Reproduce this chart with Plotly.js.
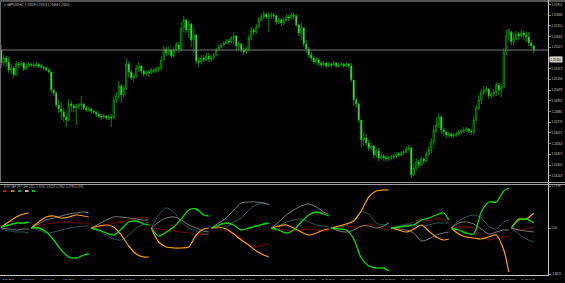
<!DOCTYPE html>
<html><head><meta charset="utf-8">
<script src="https://cdn.plot.ly/plotly-3.0.1.min.js"></script>
<style>html,body{margin:0;padding:0;background:#000;overflow:hidden}#chart{width:565px;height:283px}</style>
</head><body><div id="chart"></div>
<script>
const chartTitle = "GBPUSD,H1  1.25528 1.25553 1.25468 1.25500";
const bidLabel = "1.25410";
const bidPrice = 1.2550;

const openP = [1.2550,
1.2537,1.2542,1.2538,1.2530,1.2532,1.2525,1.2536,1.2535,1.2537,1.2531,
1.2534,1.2536,1.2535,1.2534,1.2536,1.2534,1.2533,1.2532,1.2530,1.2528,
1.2510,1.2507,1.2495,1.2491,1.2488,1.2483,1.2480,1.2496,1.2494,1.2492,
1.2494,1.2495,1.2496,1.2492,1.2490,1.2491,1.2489,1.2488,1.2486,1.2484,
1.2483,1.2484,1.2482,1.2483,1.2482,1.2500,1.2504,1.2514,1.2505,1.2512,
1.2536,1.2528,1.2522,1.2524,1.2532,1.2534,1.2529,1.2526,1.2528,1.2527,
1.2530,1.2529,1.2531,1.2532,1.2540,1.2551,1.2547,1.2550,1.2544,1.2550,
1.2555,1.2551,1.2572,1.2580,1.2570,1.2576,1.2560,1.2565,1.2539,1.2538,
1.2542,1.2540,1.2544,1.2541,1.2543,1.2545,1.2550,1.2553,1.2555,1.2557,
1.2559,1.2558,1.2562,1.2564,1.2554,1.2556,1.2550,1.2548,1.2551,1.2562,
1.2570,1.2568,1.2573,1.2580,1.2583,1.2586,1.2583,1.2584,1.2585,1.2584,
1.2578,1.2580,1.2577,1.2580,1.2583,1.2582,1.2585,1.2584,1.2575,1.2567,
1.2572,1.2556,1.2551,1.2545,1.2542,1.2538,1.2540,1.2537,1.2535,1.2537,
1.2534,1.2536,1.2535,1.2537,1.2534,1.2535,1.2536,1.2534,1.2536,1.2534,
1.2520,1.2500,1.2496,1.2480,1.2460,1.2462,1.2457,1.2452,1.2454,1.2445,
1.2449,1.2442,1.2444,1.2442,1.2441,1.2442,1.2443,1.2444,1.2446,1.2445,
1.2447,1.2448,1.2451,1.2452,1.2425,1.2432,1.2438,1.2435,1.2441,1.2439,
1.2446,1.2450,1.2458,1.2470,1.2475,1.2483,1.2470,1.2468,1.2465,1.2466,
1.2464,1.2465,1.2466,1.2468,1.2469,1.2470,1.2471,1.2469,1.2468,1.2480,
1.2492,1.2500,1.2508,1.2510,1.2511,1.2504,1.2506,1.2508,1.2515,1.2510,
1.2513,1.2548,1.2565,1.2568,1.2558,1.2562,1.2566,1.2564,1.2567,1.2565,
1.2563,1.2557,1.2554];

const closeP = [
1.2537,1.2542,1.2538,1.2530,1.2532,1.2525,1.2536,1.2535,1.2537,1.2531,
1.2534,1.2536,1.2535,1.2534,1.2536,1.2534,1.2533,1.2532,1.2530,1.2528,
1.2510,1.2507,1.2495,1.2491,1.2488,1.2483,1.2480,1.2496,1.2494,1.2492,
1.2494,1.2495,1.2496,1.2492,1.2490,1.2491,1.2489,1.2488,1.2486,1.2484,
1.2483,1.2484,1.2482,1.2483,1.2482,1.2500,1.2504,1.2514,1.2505,1.2512,
1.2536,1.2528,1.2522,1.2524,1.2532,1.2534,1.2529,1.2526,1.2528,1.2527,
1.2530,1.2529,1.2531,1.2532,1.2540,1.2551,1.2547,1.2550,1.2544,1.2550,
1.2555,1.2551,1.2572,1.2580,1.2570,1.2576,1.2560,1.2565,1.2539,1.2538,
1.2542,1.2540,1.2544,1.2541,1.2543,1.2545,1.2550,1.2553,1.2555,1.2557,
1.2559,1.2558,1.2562,1.2564,1.2554,1.2556,1.2550,1.2548,1.2551,1.2562,
1.2570,1.2568,1.2573,1.2580,1.2583,1.2586,1.2583,1.2584,1.2585,1.2584,
1.2578,1.2580,1.2577,1.2580,1.2583,1.2582,1.2585,1.2584,1.2575,1.2567,
1.2572,1.2556,1.2551,1.2545,1.2542,1.2538,1.2540,1.2537,1.2535,1.2537,
1.2534,1.2536,1.2535,1.2537,1.2534,1.2535,1.2536,1.2534,1.2536,1.2534,
1.2520,1.2500,1.2496,1.2480,1.2460,1.2462,1.2457,1.2452,1.2454,1.2445,
1.2449,1.2442,1.2444,1.2442,1.2441,1.2442,1.2443,1.2444,1.2446,1.2445,
1.2447,1.2448,1.2451,1.2452,1.2425,1.2432,1.2438,1.2435,1.2441,1.2439,
1.2446,1.2450,1.2458,1.2470,1.2475,1.2483,1.2470,1.2468,1.2465,1.2466,
1.2464,1.2465,1.2466,1.2468,1.2469,1.2470,1.2471,1.2469,1.2468,1.2480,
1.2492,1.2500,1.2508,1.2510,1.2511,1.2504,1.2506,1.2508,1.2515,1.2510,
1.2513,1.2548,1.2565,1.2568,1.2558,1.2562,1.2566,1.2564,1.2567,1.2565,
1.2563,1.2557,1.2554,1.2550];

const highP = [
1.2555,1.2545,1.2544,1.2543,1.2536,1.2534,1.2539,1.2538,1.2539,1.2538,
1.2536,1.2538,1.2537,1.2537,1.2538,1.2537,1.2536,1.2534,1.2533,1.2532,
1.2529,1.2511,1.2508,1.2500,1.2498,1.2492,1.2485,1.2501,1.2499,1.2496,
1.2496,1.2497,1.2504,1.2497,1.2494,1.2493,1.2492,1.2490,1.2489,1.2487,
1.2486,1.2486,1.2485,1.2485,1.2486,1.2505,1.2508,1.2519,1.2516,1.2515,
1.2542,1.2538,1.2530,1.2527,1.2535,1.2538,1.2535,1.2531,1.2530,1.2530,
1.2532,1.2532,1.2533,1.2534,1.2544,1.2554,1.2553,1.2554,1.2551,1.2553,
1.2558,1.2558,1.2578,1.2584,1.2581,1.2579,1.2577,1.2572,1.2566,1.2543,
1.2545,1.2545,1.2547,1.2547,1.2545,1.2547,1.2552,1.2555,1.2557,1.2559,
1.2561,1.2561,1.2564,1.2568,1.2565,1.2559,1.2557,1.2552,1.2554,1.2565,
1.2573,1.2572,1.2576,1.2583,1.2586,1.2589,1.2587,1.2588,1.2588,1.2587,
1.2585,1.2583,1.2582,1.2583,1.2586,1.2585,1.2588,1.2587,1.2586,1.2576,
1.2578,1.2573,1.2560,1.2553,1.2548,1.2544,1.2543,1.2542,1.2539,1.2539,
1.2538,1.2538,1.2537,1.2539,1.2538,1.2537,1.2538,1.2537,1.2538,1.2537,
1.2537,1.2520,1.2502,1.2497,1.2480,1.2468,1.2466,1.2460,1.2457,1.2455,
1.2452,1.2452,1.2447,1.2446,1.2444,1.2444,1.2445,1.2446,1.2448,1.2448,
1.2449,1.2450,1.2454,1.2455,1.2453,1.2437,1.2442,1.2440,1.2444,1.2443,
1.2449,1.2454,1.2462,1.2475,1.2483,1.2487,1.2484,1.2472,1.2469,1.2468,
1.2467,1.2467,1.2468,1.2470,1.2471,1.2473,1.2473,1.2472,1.2471,1.2484,
1.2495,1.2505,1.2511,1.2514,1.2514,1.2512,1.2508,1.2511,1.2518,1.2517,
1.2516,1.2552,1.2570,1.2572,1.2569,1.2567,1.2569,1.2568,1.2570,1.2569,
1.2568,1.2568,1.2560,1.2555];

const lowP = [
1.2532,1.2534,1.2533,1.2527,1.2526,1.2522,1.2524,1.2532,1.2533,1.2529,
1.2530,1.2533,1.2533,1.2532,1.2533,1.2532,1.2531,1.2530,1.2529,1.2527,
1.2507,1.2504,1.2493,1.2487,1.2480,1.2478,1.2473,1.2479,1.2488,1.2488,
1.2475,1.2491,1.2490,1.2490,1.2488,1.2488,1.2486,1.2486,1.2483,1.2482,
1.2480,1.2481,1.2480,1.2480,1.2473,1.2481,1.2497,1.2501,1.2497,1.2503,
1.2510,1.2523,1.2520,1.2518,1.2522,1.2528,1.2526,1.2523,1.2524,1.2523,
1.2526,1.2527,1.2527,1.2528,1.2529,1.2540,1.2544,1.2545,1.2542,1.2543,
1.2550,1.2547,1.2548,1.2568,1.2567,1.2562,1.2553,1.2547,1.2536,1.2533,
1.2536,1.2538,1.2539,1.2538,1.2538,1.2540,1.2544,1.2549,1.2552,1.2554,
1.2556,1.2556,1.2557,1.2555,1.2550,1.2550,1.2547,1.2545,1.2546,1.2549,
1.2560,1.2565,1.2566,1.2572,1.2578,1.2581,1.2581,1.2568,1.2581,1.2581,
1.2575,1.2576,1.2574,1.2575,1.2579,1.2579,1.2581,1.2580,1.2573,1.2564,
1.2560,1.2553,1.2547,1.2542,1.2539,1.2536,1.2535,1.2534,1.2532,1.2533,
1.2532,1.2533,1.2532,1.2534,1.2532,1.2533,1.2533,1.2532,1.2533,1.2532,
1.2518,1.2494,1.2492,1.2477,1.2453,1.2454,1.2454,1.2449,1.2450,1.2442,
1.2443,1.2439,1.2440,1.2439,1.2439,1.2439,1.2440,1.2441,1.2442,1.2443,
1.2444,1.2445,1.2447,1.2449,1.2422,1.2424,1.2430,1.2432,1.2434,1.2436,
1.2438,1.2443,1.2447,1.2455,1.2467,1.2472,1.2466,1.2464,1.2462,1.2463,
1.2462,1.2462,1.2463,1.2464,1.2466,1.2467,1.2468,1.2467,1.2465,1.2465,
1.2479,1.2490,1.2496,1.2505,1.2507,1.2501,1.2502,1.2503,1.2504,1.2505,
1.2503,1.2512,1.2545,1.2560,1.2555,1.2554,1.2560,1.2560,1.2562,1.2560,
1.2558,1.2554,1.2552,1.2547];

const tickBars = [0,8,16,24,32,40,48,56,64,72,80,88,96,104,112,120,128,136,144,152,160,168,176,184,192,200,208];
const timeLabels = ["8 Jul 2019","8 Jul 20:00","9 Jul 04:00","9 Jul 12:00","9 Jul 20:00","10 Jul 04:00","10 Jul 12:00","10 Jul 20:00","11 Jul 04:00","11 Jul 12:00","11 Jul 20:00","12 Jul 04:00","12 Jul 12:00","12 Jul 20:00","15 Jul 04:00","15 Jul 12:00","15 Jul 20:00","16 Jul 04:00","16 Jul 12:00","16 Jul 20:00","17 Jul 04:00","17 Jul 12:00","17 Jul 20:00","18 Jul 04:00","18 Jul 12:00","18 Jul 20:00","19 Jul 04:00"];

const currencies = ["EUR","GBP","JPY","CHF","USD"];
const strengthNow = ["0.3196","-0.8219","-0.7962","-0.3793","0.5993"];
const indTicks = [1.68, 0, -1.84];
const indTickText = ["1.7798", "0.00", "-1.8421"];

const indX = [0,3,6,9,11,null,
12,15,18,21,24,27,30,33,35,null,
36,39,42,45,48,51,54,57,59,null,
60,63,66,69,72,75,78,81,83,null,
84,87,90,93,96,99,102,105,107,null,
108,111,114,117,120,123,126,129,131,null,
132,135,138,141,144,147,150,153,155,null,
156,159,162,165,168,171,174,177,179,null,
180,183,186,189,192,195,198,201,203,null,
204,207,210,213];

const indEUR = [0.04,0.12,0.16,0.20,0.20,null,
0,0.08,0.16,0.20,0.24,0.24,0.20,0.20,0.16,null,
0,0.04,0.12,0.20,0.24,0.32,0.40,0.44,0.40,null,
0,-0.04,-0.08,-0.12,-0.16,-0.20,-0.28,-0.24,-0.20,null,
0,-0.04,-0.12,-0.24,-0.40,-0.72,-0.76,-0.68,-0.64,null,
0,-0.04,-0.08,-0.12,-0.08,-0.04,-0.08,-0.12,-0.12,null,
0,0.04,0.08,0.04,0.04,0.16,0.08,-0.04,-0.08,null,
0,0.04,0.12,0.24,0.36,0.28,0.40,0.32,0.24,null,
0,0.04,0.04,0,-0.28,-0.48,-0.40,-0.36,-0.32,null,
0,-0.08,-0.04,0.04];

const indGBP = [0.04,0.24,0.44,0.56,0.60,null,
0,0.24,0.44,0.48,0.40,0.44,0.52,0.48,0.44,null,
0,0.08,0.12,0.04,-0.28,-0.72,-1.04,-1.16,-1.16,null,
0,-0.56,-0.76,-0.80,-0.80,-0.76,-0.28,-0.04,0,null,
0,0.04,-0.04,-0.24,-0.48,-0.68,-0.92,-1.08,-1.16,null,
0,0.08,0.12,0,-0.16,-0.28,-0.20,-0.08,-0.04,null,
0,0.08,0.16,0.28,0.68,1.24,1.48,1.52,1.52,null,
0,-0.08,-0.16,-0.04,0.12,-0.12,-0.36,-0.48,-0.44,null,
0,-0.24,-0.36,-0.40,-0.44,-0.36,-0.28,-0.88,-1.76,null,
0,0.36,0.36,0.60];

const indJPY = [-0.04,-0.12,-0.16,-0.16,-0.20,null,
0,-0.08,-0.20,-0.16,-0.08,0,0.04,0.08,0.08,null,
0,-0.12,-0.28,-0.44,-0.48,-0.28,0,0.16,0.24,null,
0,0.52,0.80,0.64,0.24,0,-0.12,-0.24,-0.28,null,
0,0,0.04,0.24,0.40,0.72,0.92,1.00,0.96,null,
0,0.08,0.24,0.32,0.36,0.24,0.12,0.08,0.04,null,
0,0.04,0.12,0.36,0.64,0.56,0.20,0.12,0.20,null,
0,0.08,0.16,0.12,0.08,0.12,0.20,0.20,0.20,null,
0,0.28,0.44,0.52,0.40,0.08,-0.04,0.24,0.32,null,
0,-0.24,-0.44,-0.56];

const indCHF = [0,-0.04,-0.08,-0.04,-0.04,null,
0,0.16,0.32,0.40,0.48,0.56,0.60,0.64,0.60,null,
0,0.16,0.32,0.44,0.44,0.40,0.36,0.32,0.32,null,
0,0.24,0.40,0.44,0.32,0.12,0,-0.12,-0.16,null,
0,0.20,0.40,0.72,1.00,1.04,1.04,1.00,0.92,null,
0,0.24,0.52,0.72,0.88,0.96,0.84,0.64,0.56,null,
0,-0.12,-0.16,-0.08,0.08,0.08,0,0.08,0.20,null,
0,-0.04,-0.08,-0.20,-0.52,-0.44,-0.28,-0.20,-0.16,null,
0,0.20,0.24,0.16,-0.04,-0.24,-0.16,-0.08,-0.08,null,
0,-0.08,-0.12,-0.16];

const indUSD = [0.04,0.12,0.20,0.20,0.24,null,
0,0,-0.16,-0.48,-0.88,-1.16,-1.20,-1.08,-1.04,null,
0,-0.08,-0.20,-0.28,-0.04,0.24,0.28,0.16,0.12,null,
0,-0.32,-0.16,0.04,0.36,0.72,0.76,0.52,0.48,null,
0,0.12,0.20,0.12,-0.08,0,0.08,0.16,0.20,null,
0,-0.08,-0.20,-0.08,0.24,0.52,0.64,0.56,0.48,null,
0,-0.04,-0.08,-0.44,-1.20,-1.52,-1.60,-1.60,-1.72,null,
0,0.04,0.08,0.12,0.32,0.40,0.52,0.60,0.32,null,
0,-0.08,-0.20,-0.24,0.64,1.04,1.04,1.48,1.60,null,
0,0.32,0.36,0.20];

const W = 565, H = 283;
const PX = x => x / W, PY = y => 1 - y / H;
const AXW = 548;
const txt = '#c8c8c8';
const fam = 'Liberation Sans, Arial, sans-serif';

const barIdx = closeP.map((_, i) => i);

const traces = [{
  type: 'candlestick', x: barIdx, open: openP, high: highP, low: lowP, close: closeP,
  xaxis: 'x', yaxis: 'y',
  increasing: {line: {color: '#00a800', width: 0.8}, fillcolor: '#000000'},
  decreasing: {line: {color: '#00b400', width: 0.8}, fillcolor: '#e0ffe0'},
  whiskerwidth: 0, hoverinfo: 'skip', showlegend: false
}];

const lineDefs = [
  [indEUR, '#9a0000', 0.8],
  [indJPY, '#2a7070', 0.8],
  [indCHF, '#9a9a9a', 0.8],
  [indGBP, '#ff9f00', 1.2],
  [indUSD, '#00e000', 1.3]
];
lineDefs.forEach(([ys, c, w]) => traces.push({
  type: 'scatter', mode: 'lines', x: indX, y: ys, xaxis: 'x', yaxis: 'y2',
  line: {color: c, width: w, shape: 'spline', smoothing: 0.8},
  connectgaps: false, hoverinfo: 'skip', showlegend: false
}));

const hline = (y, x0, x1, c, w) => ({type: 'line', xref: 'paper', yref: 'paper', x0: PX(x0), x1: PX(x1), y0: PY(y), y1: PY(y), line: {color: c, width: w}});
const vline = (x, y0, y1, c, w) => ({type: 'line', xref: 'paper', yref: 'paper', x0: PX(x), x1: PX(x), y0: PY(y0), y1: PY(y1), line: {color: c, width: w}});

const legendColors = ['#ff2020', '#ffa500', '#20b0b0', '#e8e8e8', '#00ff00'];
const legendX = [3, 11, 18, 25, 32];

const shapes = [
  hline(1, 0, W, '#555555', 2),
  vline(0.5, 2, 181.5, '#6a6a6a', 1),
  hline(182.5, 0, W, '#a0a0a0', 1),
  hline(184.5, 0, W, '#a0a0a0', 1),
  vline(AXW + 0.5, 0, 276, '#c8c8c8', 1),
  hline(275.5, 0, AXW + 0.5, '#c8c8c8', 1),
  {type: 'line', xref: 'x', yref: 'y', x0: -0.5, x1: 218.7, y0: bidPrice, y1: bidPrice, line: {color: '#787878', width: 1}}
];
legendX.forEach((x, k) => shapes.push({type: 'rect', xref: 'paper', yref: 'paper',
  x0: PX(x), x1: PX(x + 3.5), y0: PY(191.8), y1: PY(190.3), fillcolor: legendColors[k], line: {width: 0}}));

const annotations = [
  {xref: 'paper', yref: 'paper', x: PX(2), y: PY(5), xanchor: 'left', yanchor: 'middle', showarrow: false,
   text: '▾ ' + chartTitle, font: {family: fam, size: 2.9, color: txt}},
  {xref: 'paper', yref: 'paper', x: PX(2), y: PY(187.3), xanchor: 'left', yanchor: 'middle', showarrow: false,
   text: currencies.join(' ') + '   ' + strengthNow.join(' '), font: {family: fam, size: 2.7, color: '#b0b0b0'}},
  {xref: 'paper', yref: 'paper', x: PX(549), y: PY(59.5), xanchor: 'left', yanchor: 'middle', showarrow: false,
   text: bidLabel, bgcolor: '#d0d0d0', borderpad: 0.5, font: {family: fam, size: 2.9, color: '#000000'}}
];

const layout = {
  width: W, height: H, margin: {l: 0, r: 0, t: 0, b: 0},
  paper_bgcolor: '#000000', plot_bgcolor: '#000000',
  showlegend: false, hovermode: false, dragmode: false,
  xaxis: {domain: [0, AXW / W], range: [-0.5, 218.7], anchor: 'y2', type: 'linear',
    showgrid: false, zeroline: false, showline: false, rangeslider: {visible: false},
    tickmode: 'array', tickvals: tickBars, ticktext: timeLabels, tickangle: 0, ticks: '',
    ticklabelshift: 7, ticklabelstandoff: 1,
    tickfont: {family: fam, size: 2.5, color: txt}, automargin: false},
  yaxis: {domain: [PY(181), PY(4)], range: [1.2419, 1.2596], side: 'right', anchor: 'x',
    showgrid: false, zeroline: false, showline: false,
    tickmode: 'linear', tick0: 1.24243, dtick: 0.00107, tickformat: '.5f',
    ticks: 'outside', ticklen: 2, tickcolor: '#c8c8c8', tickwidth: 0.6, ticklabelstandoff: 0.5,
    tickfont: {family: fam, size: 2.9, color: txt}, automargin: false},
  yaxis2: {domain: [PY(275.5), PY(185)], range: [-1.90, 1.72], side: 'right', anchor: 'x',
    showgrid: false, zeroline: false, showline: false,
    tickmode: 'array', tickvals: indTicks, ticktext: indTickText,
    ticks: 'outside', ticklen: 2, tickcolor: '#c8c8c8', tickwidth: 0.6, ticklabelstandoff: 0.5,
    tickfont: {family: fam, size: 2.9, color: txt}, automargin: false},
  shapes: shapes, annotations: annotations
};

Plotly.newPlot('chart', traces, layout, {staticPlot: true, displayModeBar: false});
</script></body></html>
